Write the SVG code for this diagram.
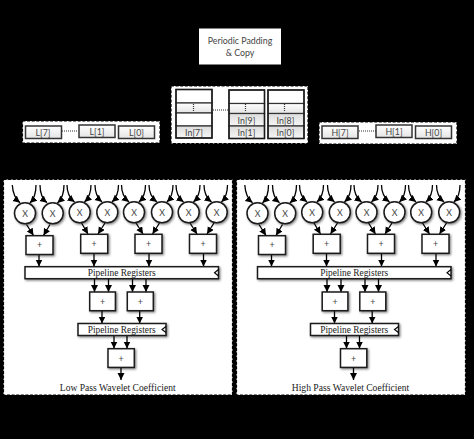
<svg xmlns="http://www.w3.org/2000/svg" width="474" height="439" viewBox="0 0 474 439">
<defs>
<marker id="a" markerUnits="userSpaceOnUse" markerWidth="8" markerHeight="8" refX="7" refY="3.5" orient="auto"><path d="M0 0L7 3.5L0 7Z" fill="#000"/></marker>
<linearGradient id="g1" x1="0" y1="0" x2="0" y2="1"><stop offset="0" stop-color="#fff"/><stop offset="1" stop-color="#e4e4e4"/></linearGradient>
<linearGradient id="g2" x1="0" y1="0" x2="0" y2="1"><stop offset="0" stop-color="#dcdcdc"/><stop offset="1" stop-color="#f6f6f6"/></linearGradient>
<filter id="s" x="-20%" y="-20%" width="150%" height="150%"><feDropShadow dx="1.2" dy="1.2" stdDeviation="0.9" flood-color="#000" flood-opacity="0.5"/></filter>
</defs>
<style>
.panel{fill:#fff;stroke:#000;stroke-width:1.2;stroke-dasharray:3 1.6}
.b{fill:#fff;stroke:#1a1a1a;stroke-width:1.5;filter:url(#s)}
.r{fill:url(#g1);stroke:#333;stroke-width:1.2}
.r2{fill:url(#g2);stroke:#333;stroke-width:1.2}
.w{fill:#fff;stroke:#333;stroke-width:1.2}
.reg{fill:url(#g1);stroke:#333;stroke-width:1.5}
.c{fill:none;stroke:#000;stroke-width:1.3;marker-end:url(#a)}
.d{fill:none;stroke:#333;stroke-width:1.2;stroke-dasharray:1 1}
.ck{fill:none;stroke:#000;stroke-width:1.1}
text{text-anchor:middle;fill:#444}
.sans{font-family:Lato,"Liberation Sans",sans-serif;font-size:8.800px}
.t{font-family:"Liberation Serif",serif;font-size:9.400px;fill:#222}
.cap{font-family:"Liberation Serif",serif;font-size:9.600px;fill:#222}
</style>
<rect width="474" height="439" fill="#000"/>

<g id="padding-copy"><rect x="199" y="28.500" width="82" height="36" fill="#fff"/><text class="sans" x="240" y="44">Periodic Padding</text><text class="sans" x="240" y="55.500">&amp; Copy</text></g>

<g id="panels">
<rect id="panel-l" class="panel" x="22.500" y="121" width="137.500" height="22"/>
<rect id="panel-in" class="panel" x="171" y="86" width="137" height="57.500"/>
<rect id="panel-h" class="panel" x="319" y="122" width="138" height="22"/>
<rect id="panel-low" class="panel" x="3.500" y="179.500" width="229" height="215.500"/>
<rect id="panel-high" class="panel" x="236.500" y="179.500" width="229" height="215.500"/>
</g>

<g id="connectors">
<path class="d" d="M62 131H78"/><path class="d" d="M359 131H376"/><path class="d" d="M213 110H229"/>
<g id="connectors-low">
<path class="c" d="M12.300 185Q13 197 20 202.800"/><path class="c" d="M36 185Q36 197 30 203"/>
<path class="c" d="M40 185Q40 197 47 202.800"/><path class="c" d="M64 185Q64 197 57.500 203"/>
<path class="c" d="M67 185Q67 196 74.500 202"/><path class="c" d="M91 185Q91 196 84.500 202"/>
<path class="c" d="M95 185Q95 196 102 202"/><path class="c" d="M118.500 185Q118.500 196 112 202"/>
<path class="c" d="M121.500 185Q121.500 196 129 202"/><path class="c" d="M145.500 185Q145.500 196 139 202"/>
<path class="c" d="M149 185Q149 196 157 202"/><path class="c" d="M173 185Q173 196 167 202"/>
<path class="c" d="M176 185Q176 196 183.500 202"/><path class="c" d="M200 185Q200 196 193.500 202"/>
<path class="c" d="M204 185Q204 196 211.500 202"/><path class="c" d="M227.500 185Q227.500 196 221.500 202"/>
<path class="c" d="M26.500 224.500L33.500 235.500"/><path class="c" d="M50 224.500L43.500 235.500"/>
<path class="c" d="M81.500 223L88 234"/><path class="c" d="M105 223L98 234"/>
<path class="c" d="M136 223L143 234"/><path class="c" d="M159.500 223L152.500 234"/>
<path class="c" d="M190 223L197 234"/><path class="c" d="M214 223L207 234"/>
<path class="c" d="M39 254.500V266.500"/><path class="c" d="M94 253.500V266.500"/><path class="c" d="M149 253.500V266.500"/><path class="c" d="M203.500 253.500V266.500"/>
<path class="c" d="M94.500 279V292"/><path class="c" d="M108.500 279V292"/><path class="c" d="M132.500 279V292"/><path class="c" d="M146 279V292"/>
<path class="c" d="M102 311V323.500"/><path class="c" d="M139.700 311V323.500"/>
<path class="c" d="M114 336V348.500"/><path class="c" d="M127 336V348.500"/>
<path class="c" d="M121 367.500V380"/>
</g>
<g id="connectors-high" transform="translate(232.500 0)">
<path class="c" d="M12.300 185Q13 197 20 202.800"/><path class="c" d="M36 185Q36 197 30 203"/>
<path class="c" d="M40 185Q40 197 47 202.800"/><path class="c" d="M64 185Q64 197 57.500 203"/>
<path class="c" d="M67 185Q67 196 74.500 202"/><path class="c" d="M91 185Q91 196 84.500 202"/>
<path class="c" d="M95 185Q95 196 102 202"/><path class="c" d="M118.500 185Q118.500 196 112 202"/>
<path class="c" d="M121.500 185Q121.500 196 129 202"/><path class="c" d="M145.500 185Q145.500 196 139 202"/>
<path class="c" d="M149 185Q149 196 157 202"/><path class="c" d="M173 185Q173 196 167 202"/>
<path class="c" d="M176 185Q176 196 183.500 202"/><path class="c" d="M200 185Q200 196 193.500 202"/>
<path class="c" d="M204 185Q204 196 211.500 202"/><path class="c" d="M227.500 185Q227.500 196 221.500 202"/>
<path class="c" d="M26.500 224.500L33.500 235.500"/><path class="c" d="M50 224.500L43.500 235.500"/>
<path class="c" d="M81.500 223L88 234"/><path class="c" d="M105 223L98 234"/>
<path class="c" d="M136 223L143 234"/><path class="c" d="M159.500 223L152.500 234"/>
<path class="c" d="M190 223L197 234"/><path class="c" d="M214 223L207 234"/>
<path class="c" d="M39 254.500V266.500"/><path class="c" d="M94 253.500V266.500"/><path class="c" d="M149 253.500V266.500"/><path class="c" d="M203.500 253.500V266.500"/>
<path class="c" d="M94.500 279V292"/><path class="c" d="M108.500 279V292"/><path class="c" d="M132.500 279V292"/><path class="c" d="M146 279V292"/>
<path class="c" d="M102 311V323.500"/><path class="c" d="M139.700 311V323.500"/>
<path class="c" d="M114 336V348.500"/><path class="c" d="M127 336V348.500"/>
<path class="c" d="M121 367.500V380"/>
</g>
</g>

<g id="L7"><rect class="reg" x="25.500" y="126" width="36" height="12.500"/><text class="sans" x="43" y="136">L[7]</text></g>
<g id="L1"><rect class="reg" x="79" y="125" width="36" height="12.500"/><text class="sans" x="97" y="135">L[1]</text></g>
<g id="L0"><rect class="reg" x="118.500" y="126" width="36" height="12.500"/><text class="sans" x="136.500" y="136">L[0]</text></g>
<g id="H7"><rect class="reg" x="322" y="126" width="36" height="12.500"/><text class="sans" x="340" y="136">H[7]</text></g>
<g id="H1"><rect class="reg" x="376" y="125" width="36" height="12.500"/><text class="sans" x="394" y="135">H[1]</text></g>
<g id="H0"><rect class="reg" x="415.500" y="126" width="36" height="12.500"/><text class="sans" x="433.500" y="136">H[0]</text></g>

<g id="col-in7">
<rect class="w" x="176" y="89.500" width="36" height="13.500"/><rect class="r" x="176" y="103" width="36" height="10"/><rect class="w" x="176" y="113" width="36" height="13"/><rect class="r2" x="176" y="126" width="36" height="12"/>
<path class="d" d="M193.500 104V112"/><text class="sans" x="194" y="136">In[7]</text>
<rect x="176" y="89.500" width="36" height="48.500" fill="none" stroke="#1a1a1a" stroke-width="1.500"/></g>
<g id="col-in9-in1">
<rect class="w" x="229" y="90" width="35.500" height="13.500"/><rect class="r" x="229" y="103.500" width="35.500" height="10"/><rect class="r2" x="229" y="113.500" width="35.500" height="12.500"/><rect class="r2" x="229" y="126" width="35.500" height="12.500"/>
<path class="d" d="M245.500 104V112"/><text class="sans" x="246.500" y="123.500">In[9]</text><text class="sans" x="246.500" y="136">In[1]</text>
<rect x="229" y="90" width="35.500" height="48.500" fill="none" stroke="#1a1a1a" stroke-width="1.500"/></g>
<g id="col-in8-in0">
<rect class="w" x="268" y="90" width="36" height="13.500"/><rect class="r" x="268" y="103.500" width="36" height="10"/><rect class="r2" x="268" y="113.500" width="36" height="12.500"/><rect class="r2" x="268" y="126" width="36" height="12.500"/>
<path class="d" d="M284.500 104V112"/><text class="sans" x="285.500" y="123.500">In[8]</text><text class="sans" x="285.500" y="136">In[0]</text>
<rect x="268" y="90" width="36" height="48.500" fill="none" stroke="#1a1a1a" stroke-width="1.500"/></g>

<g id="low-nodes">
<g id="low-x1"><circle class="b" cx="25" cy="213.300" r="10.500"/><text class="sans" x="25" y="216.500">X</text></g>
<g id="low-x2"><circle class="b" cx="52.700" cy="213.300" r="10.500"/><text class="sans" x="52.700" y="216.500">X</text></g>
<g id="low-x3"><circle class="b" cx="79.700" cy="212.300" r="10.500"/><text class="sans" x="79.700" y="215.500">X</text></g>
<g id="low-x4"><circle class="b" cx="107.300" cy="212.300" r="10.500"/><text class="sans" x="107.300" y="215.500">X</text></g>
<g id="low-x5"><circle class="b" cx="134" cy="212.300" r="10.500"/><text class="sans" x="134" y="215.500">X</text></g>
<g id="low-x6"><circle class="b" cx="162" cy="212.300" r="10.500"/><text class="sans" x="162" y="215.500">X</text></g>
<g id="low-x7"><circle class="b" cx="188.700" cy="212.300" r="10.500"/><text class="sans" x="188.700" y="215.500">X</text></g>
<g id="low-x8"><circle class="b" cx="216.700" cy="212.300" r="10.500"/><text class="sans" x="216.700" y="215.500">X</text></g>
<g id="low-a1"><rect class="b" x="26" y="235.700" width="27" height="18.800"/><text class="sans" x="39.500" y="248">+</text></g>
<g id="low-a2"><rect class="b" x="80.700" y="234.300" width="27" height="19"/><text class="sans" x="94" y="247">+</text></g>
<g id="low-a3"><rect class="b" x="135" y="234.300" width="27" height="19"/><text class="sans" x="148.500" y="247">+</text></g>
<g id="low-a4"><rect class="b" x="189.500" y="234.300" width="27" height="19"/><text class="sans" x="203" y="247">+</text></g>
<g id="low-p1"><rect class="b" x="25" y="266.700" width="193.500" height="12"/><text class="t" x="121.700" y="276">Pipeline Registers</text><path class="ck" d="M218.500 269.500L214.500 272.700L218.500 276"/></g>
<g id="low-a5"><rect class="b" x="89.700" y="292" width="25.700" height="18.700"/><text class="sans" x="102.500" y="305">+</text></g>
<g id="low-a6"><rect class="b" x="127.300" y="292" width="26" height="18.700"/><text class="sans" x="140.300" y="305">+</text></g>
<g id="low-p2"><rect class="b" x="78" y="323.500" width="88" height="12"/><text class="t" x="121.700" y="332.800">Pipeline Registers</text><path class="ck" d="M166 326.500L162 329.500L166 332.500"/></g>
<g id="low-a7"><rect class="b" x="108" y="348.700" width="26.300" height="18.700"/><text class="sans" x="121" y="361.500">+</text></g>
<text id="low-label" class="cap" x="117.700" y="390.500">Low Pass Wavelet Coefficient</text>
</g>

<g id="high-nodes" transform="translate(232.500 0)">
<g id="high-x1"><circle class="b" cx="25" cy="213.300" r="10.500"/><text class="sans" x="25" y="216.500">X</text></g>
<g id="high-x2"><circle class="b" cx="52.700" cy="213.300" r="10.500"/><text class="sans" x="52.700" y="216.500">X</text></g>
<g id="high-x3"><circle class="b" cx="79.700" cy="212.300" r="10.500"/><text class="sans" x="79.700" y="215.500">X</text></g>
<g id="high-x4"><circle class="b" cx="107.300" cy="212.300" r="10.500"/><text class="sans" x="107.300" y="215.500">X</text></g>
<g id="high-x5"><circle class="b" cx="134" cy="212.300" r="10.500"/><text class="sans" x="134" y="215.500">X</text></g>
<g id="high-x6"><circle class="b" cx="162" cy="212.300" r="10.500"/><text class="sans" x="162" y="215.500">X</text></g>
<g id="high-x7"><circle class="b" cx="188.700" cy="212.300" r="10.500"/><text class="sans" x="188.700" y="215.500">X</text></g>
<g id="high-x8"><circle class="b" cx="216.700" cy="212.300" r="10.500"/><text class="sans" x="216.700" y="215.500">X</text></g>
<g id="high-a1"><rect class="b" x="26" y="235.700" width="27" height="18.800"/><text class="sans" x="39.500" y="248">+</text></g>
<g id="high-a2"><rect class="b" x="80.700" y="234.300" width="27" height="19"/><text class="sans" x="94" y="247">+</text></g>
<g id="high-a3"><rect class="b" x="135" y="234.300" width="27" height="19"/><text class="sans" x="148.500" y="247">+</text></g>
<g id="high-a4"><rect class="b" x="189.500" y="234.300" width="27" height="19"/><text class="sans" x="203" y="247">+</text></g>
<g id="high-p1"><rect class="b" x="25" y="266.700" width="193.500" height="12"/><text class="t" x="121.700" y="276">Pipeline Registers</text><path class="ck" d="M218.500 269.500L214.500 272.700L218.500 276"/></g>
<g id="high-a5"><rect class="b" x="89.700" y="292" width="25.700" height="18.700"/><text class="sans" x="102.500" y="305">+</text></g>
<g id="high-a6"><rect class="b" x="127.300" y="292" width="26" height="18.700"/><text class="sans" x="140.300" y="305">+</text></g>
<g id="high-p2"><rect class="b" x="78" y="323.500" width="88" height="12"/><text class="t" x="121.700" y="332.800">Pipeline Registers</text><path class="ck" d="M166 326.500L162 329.500L166 332.500"/></g>
<g id="high-a7"><rect class="b" x="108" y="348.700" width="26.300" height="18.700"/><text class="sans" x="121" y="361.500">+</text></g>
<text id="high-label" class="cap" x="118" y="390.500">High Pass Wavelet Coefficient</text>
</g>
</svg>
